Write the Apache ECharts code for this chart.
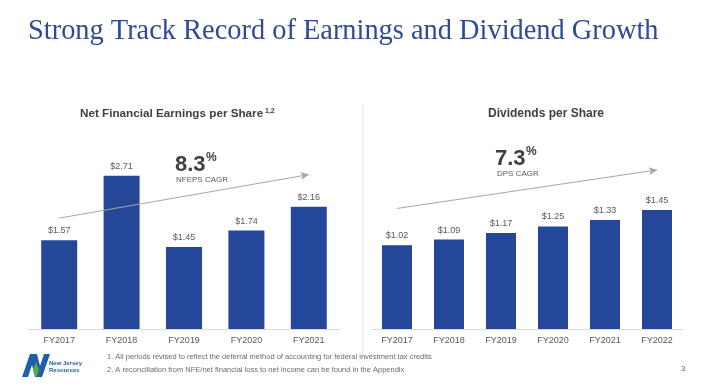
<!DOCTYPE html>
<html>
<head>
<meta charset="utf-8">
<script src="https://cdn.jsdelivr.net/npm/echarts@6/dist/echarts.min.js"></script>
<style>
html,body{margin:0;padding:0;background:#fff;}
#c{width:710px;height:387px;}
</style>
</head>
<body>
<div id="c"></div>
<script>
// ---- data ----
var nfeCategories = ['FY2017', 'FY2018', 'FY2019', 'FY2020', 'FY2021'];
var nfeValues = [1.57, 2.71, 1.45, 1.74, 2.16];
var dpsCategories = ['FY2017', 'FY2018', 'FY2019', 'FY2020', 'FY2021', 'FY2022'];
var dpsValues = [1.02, 1.09, 1.17, 1.25, 1.33, 1.45];
var nfeCagr = '8.3';
var dpsCagr = '7.3';
// trend arrows in data units: [startCategory, startValue, endCategory, endValue]
var nfeTrend = [0, 1.96, 4, 2.73];
var dpsTrend = [0, 1.47, 5, 1.94];

var BLUE = '#25479A';
var GREY = '#595959';
var chart = echarts.init(document.getElementById('c'), null, {renderer: 'canvas'});

function money(p){ return '$' + p.value.toFixed(2); }

function trendLine(t){
  return {
    silent: true,
    symbol: ['none', 'arrow'],
    symbolSize: [6, 8],
    label: {show: false},
    lineStyle: {color: '#a6a6a6', width: 1, type: 'solid'},
    data: [[{coord: [t[0], t[1]]}, {coord: [t[2], t[3]]}]]
  };
}

var option = {
  backgroundColor: '#ffffff',
  animation: false,
  title: {
    text: 'Strong Track Record of Earnings and Dividend Growth',
    left: 23, top: 13,
    textStyle: {fontFamily: 'Liberation Serif', fontWeight: 'normal', fontSize: 28.4, color: '#2E4A98'}
  },
  grid: [
    {left: 28, width: 312, top: 148, bottom: 58},
    {left: 371, width: 312, top: 165, bottom: 58}
  ],
  xAxis: [
    {type: 'category', gridIndex: 0, data: nfeCategories,
     axisLine: {lineStyle: {color: '#d9d9d9'}}, axisTick: {show: false},
     axisLabel: {color: GREY, fontSize: 9, fontFamily: 'Liberation Sans', margin: 7}},
    {type: 'category', gridIndex: 1, data: dpsCategories,
     axisLine: {lineStyle: {color: '#d9d9d9'}}, axisTick: {show: false},
     axisLabel: {color: GREY, fontSize: 9, fontFamily: 'Liberation Sans', margin: 7}}
  ],
  yAxis: [
    {type: 'value', gridIndex: 0, min: 0, max: 3.2, show: false, splitLine: {show: false}},
    {type: 'value', gridIndex: 1, min: 0, max: 2.0, show: false, splitLine: {show: false}}
  ],
  series: [
    {type: 'bar', xAxisIndex: 0, yAxisIndex: 0, data: nfeValues, barWidth: 36,
     itemStyle: {color: BLUE},
     label: {show: true, position: 'top', distance: 5, formatter: money, color: GREY, fontSize: 9, fontFamily: 'Liberation Sans'},
     markLine: trendLine(nfeTrend)},
    {type: 'bar', xAxisIndex: 1, yAxisIndex: 1, data: dpsValues, barWidth: 30,
     itemStyle: {color: BLUE},
     label: {show: true, position: 'top', distance: 5, formatter: money, color: GREY, fontSize: 9, fontFamily: 'Liberation Sans'},
     markLine: trendLine(dpsTrend)}
  ],
  graphic: [
    // separator
    {type: 'line', shape: {x1: 363, y1: 104, x2: 363, y2: 358}, style: {stroke: '#e3e3e3', lineWidth: 1}, silent: true},
    // section titles
    {type: 'text', left: 80, top: 108, style: {text: 'Net Financial Earnings per Share', font: 'bold 11.7px "Liberation Sans"', fill: '#404040'}},
    {type: 'text', left: 265, top: 108, style: {text: '1,2', font: 'bold 7px "Liberation Sans"', fill: '#404040'}},
    {type: 'text', left: 488, top: 108, style: {text: 'Dividends per Share', font: 'bold 12px "Liberation Sans"', fill: '#404040'}},
    // CAGR callouts
    {type: 'text', left: 175, top: 154, style: {text: nfeCagr, font: 'bold 22px "Liberation Sans"', fill: '#404040'}},
    {type: 'text', left: 206, top: 152, style: {text: '%', font: 'bold 12px "Liberation Sans"', fill: '#404040'}},
    {type: 'text', left: 176, top: 176, style: {text: 'NFEPS CAGR', font: '8px "Liberation Sans"', fill: GREY}},
    {type: 'text', left: 495, top: 148, style: {text: dpsCagr, font: 'bold 22px "Liberation Sans"', fill: '#404040'}},
    {type: 'text', left: 526, top: 146, style: {text: '%', font: 'bold 12px "Liberation Sans"', fill: '#404040'}},
    {type: 'text', left: 497, top: 170, style: {text: 'DPS CAGR', font: '8px "Liberation Sans"', fill: GREY}},
    // logo
    {type: 'polygon', shape: {points: [[22,377],[30,354],[37,354],[40,366],[44,354],[50,354],[42,377],[35,377],[32,365],[28,377]]}, style: {fill: '#1F5FAE'}},
    {type: 'polygon', shape: {points: [[36,378],[33,370],[36,362],[39,370]]}, style: {fill: '#5DAA3C'}},
    {type: 'text', left: 49, top: 360, style: {text: 'New Jersey', font: 'bold 6px "Liberation Sans"', fill: '#1F5FAE'}},
    {type: 'text', left: 49, top: 367, style: {text: 'Resources', font: 'bold 6px "Liberation Sans"', fill: '#1F5FAE'}},
    // footnotes
    {type: 'text', left: 107, top: 353, style: {text: '1. All periods revised to reflect the deferral method of accounting for federal investment tax credits', font: '7.5px "Liberation Sans Narrow", "Liberation Sans"', fill: '#6b6b6b'}},
    {type: 'text', left: 107, top: 366, style: {text: '2. A reconciliation from NFE/net financial loss to net income can be found in the Appendix', font: '7.5px "Liberation Sans Narrow", "Liberation Sans"', fill: '#6b6b6b'}},
    {type: 'text', left: 681, top: 365, style: {text: '3', font: '8px "Liberation Sans"', fill: '#6b6b6b'}}
  ]
};
chart.setOption(option);
</script>
</body>
</html>
